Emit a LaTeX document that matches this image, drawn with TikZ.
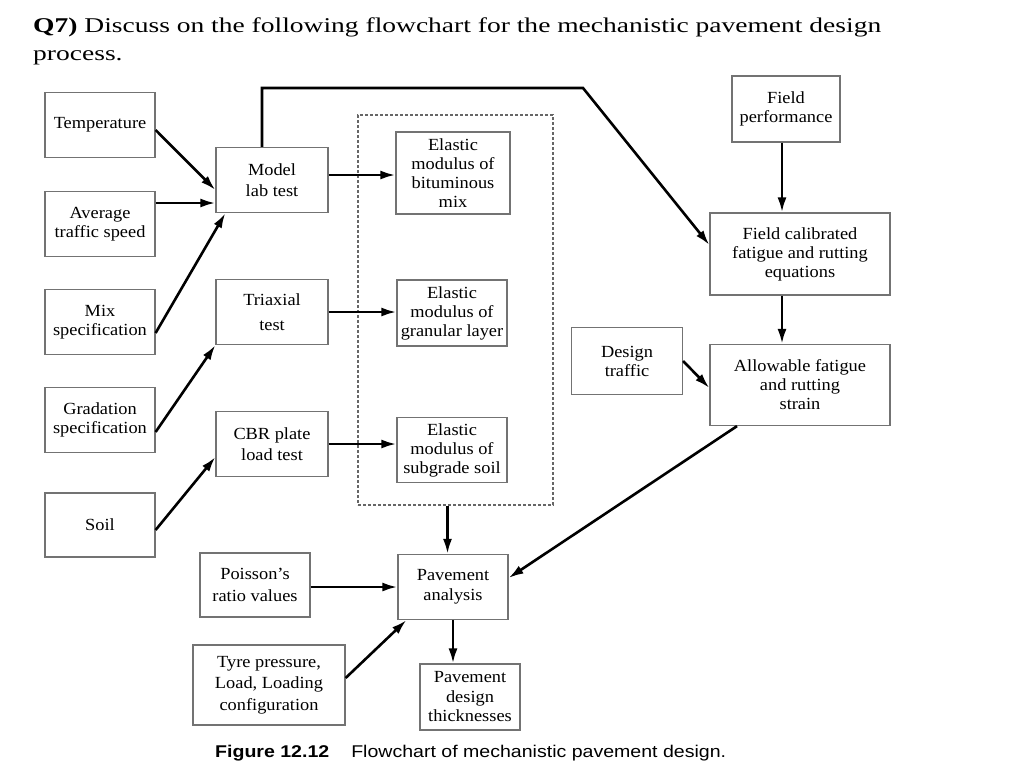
\documentclass[tikz,border=0pt]{standalone}
\usepackage{fontspec}
\setmainfont[FakeStretch=1.08]{Liberation Serif}
\newfontfamily\qfont[FakeStretch=1.31]{Liberation Serif}
\newfontfamily\capfont[FakeStretch=1.15]{Liberation Sans}
\usetikzlibrary{arrows.meta}

\begin{document}
\begin{tikzpicture}[x=1pt, y=-1pt]
        \tikzstyle{every node}=[inner sep=0pt]
        \tikzstyle{box}=[draw=black!55, line width=1.2pt, align=center, minimum width=110pt, minimum height=65pt, font=\fontsize{17}{19}\selectfont]
        \tikzstyle{wide}=[font=\fontsize{17}{21.5}\selectfont]
        \tikzstyle{arr}=[line width=2.6pt, -{Latex[length=15pt,width=9pt]}]
        \useasboundingbox (0,0) rectangle (1024,782);
        % question
        \node (q1) [anchor=base west, font=\qfont\fontsize{21}{28}\selectfont] at (33,32) {\textbf{Q7)} Discuss on the following flowchart for the mechanistic pavement design};
        \node (q2) [anchor=base west, font=\qfont\fontsize{21}{28}\selectfont] at (33,60) {process.};
        % inputs
        \node (temp) [box] at (100,125) {Temperature};
        \node (speed) [box] at (100,224) {Average\\traffic speed};
        \node (mix) [box] at (100,322) {Mix\\specification};
        \node (grad) [box] at (100,420) {Gradation\\specification};
        \node (soil) [box, minimum height=64pt] at (100,525) {Soil};
        % tests
        \node (model) [box, wide, minimum width=112pt] at (272,180) {Model\\lab test};
        \node (triax) [box, minimum width=112pt, font=\fontsize{17}{25}\selectfont] at (272,312) {Triaxial\\test};
        \node (cbr) [box, wide, minimum width=112pt] at (272,444) {CBR plate\\load test};
        % elastic moduli
        \node (elastic) [draw=black!60, line width=1.2pt, dash pattern=on 3pt off 2pt, minimum width=195pt, minimum height=390pt] at (455.5,310) {};
        \node (bitum) [box, minimum width=114pt, minimum height=82pt] at (453,173) {Elastic\\modulus of\\bituminous\\mix};
        \node (gran) [box, minimum height=66pt] at (452,313) {Elastic\\modulus of\\granular layer};
        \node (subg) [box] at (452,450) {Elastic\\modulus of\\subgrade soil};
        % field side
        \node (fieldperf) [box, minimum width=108pt, minimum height=66pt] at (786,109) {Field\\performance};
        \node (fieldcal) [box, minimum width=180pt, minimum height=82pt] at (800,254) {Field calibrated\\fatigue and rutting\\equations};
        \node (design) [box, minimum width=111pt, minimum height=67pt] at (627,361) {Design\\traffic};
        \node (allow) [box, minimum width=180pt, minimum height=81pt] at (800,385) {Allowable fatigue\\and rutting\\strain};
        % analysis
        \node (poisson) [box, wide, minimum height=64pt] at (255,585) {Poisson’s\\ratio values};
        \node (analysis) [box, font=\fontsize{17}{20}\selectfont] at (453,587) {Pavement\\analysis};
        \node (tyre) [box, wide, minimum width=152pt, minimum height=80pt] at (269,685) {Tyre pressure,\\Load, Loading\\configuration};
        \node (thick) [box, minimum width=100pt, minimum height=66pt, font=\fontsize{17}{19.5}\selectfont] at (470,697) {Pavement\\design\\thicknesses};
        \coordinate (bend) at (583,88);
        % connectors
        \draw [arr] ([yshift=-5pt]temp.east) -- ([yshift=-10pt]model.west);
        \draw [arr] ([yshift=21pt]speed.east) -- ([yshift=21pt]speed.east -| model.west);
        \draw [arr] ([yshift=-11pt]mix.east) -- ([xshift=10pt]model.south west);
        \draw [arr] ([yshift=-12pt]grad.east) -- (triax.south west);
        \draw [arr] ([yshift=-5pt]soil.east) -- ([yshift=-13pt]cbr.west);
        \draw [arr] ([yshift=5pt]model.east) -- ([yshift=5pt]model.east -| bitum.west);
        \draw [arr] (triax.east) -- (triax.east -| gran.west);
        \draw [arr] (cbr.east) -- (cbr.east -| subg.west);
        \draw [arr] ([xshift=-10pt]model.north) |- (bend) -- ([yshift=9pt]fieldcal.west);
        \draw [arr] ([xshift=-4pt]fieldperf.south) -- ([xshift=-4pt]fieldperf.south |- fieldcal.north);
        \draw [arr] ([xshift=-18pt]fieldcal.south) -- ([xshift=-18pt]fieldcal.south |- allow.north);
        \draw [arr] (design.east) -- ([yshift=-3pt]allow.west);
        \draw [arr] ([xshift=-63pt]allow.south) -- ([yshift=9pt]analysis.east);
        \draw [arr] ([xshift=-8pt]elastic.south) -- ([xshift=-8pt]elastic.south |- analysis.north);
        \draw [arr] ([yshift=-2pt]poisson.east) -- ([yshift=-2pt]poisson.east -| analysis.west);
        \draw [arr] ([yshift=7pt]tyre.east) -- ([xshift=9pt]analysis.south west);
        \draw [arr] (analysis.south) -- (analysis.south |- thick.north);
        % caption
        \node (caption) [anchor=base west, font=\capfont\fontsize{17}{20}\selectfont] at (215,757) {\textbf{Figure 12.12}\hspace{22pt}Flowchart of mechanistic pavement design.};
    \end{tikzpicture}
\end{document}
